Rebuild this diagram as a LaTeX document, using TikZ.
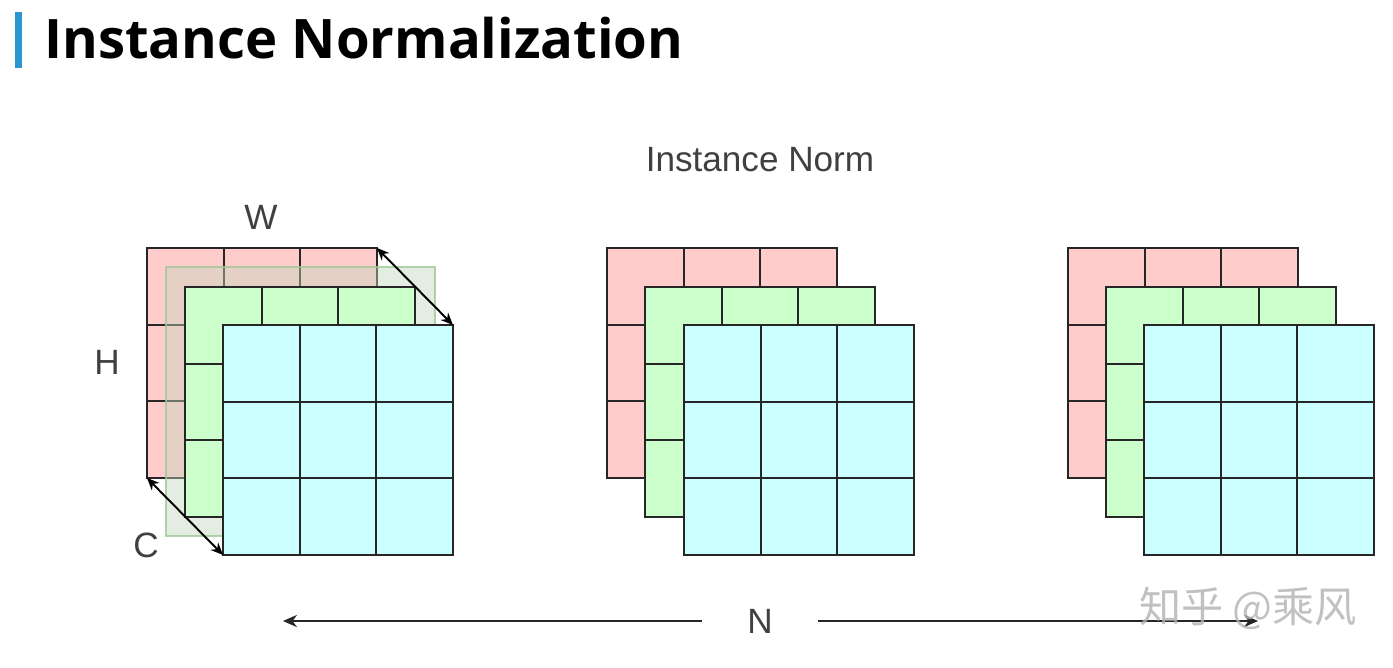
\documentclass[tikz,border=0pt]{standalone}
\usepackage{fontspec}
\setmainfont{Liberation Sans}
\newfontfamily\titlefont{Open Sans}
\newfontfamily\cjkfont{Noto Sans CJK SC}
\usepackage{xcolor}
\usetikzlibrary{arrows.meta,positioning,calc}
\definecolor{chred}{RGB}{255,204,204}
\definecolor{chgreen}{RGB}{204,255,204}
\definecolor{chcyan}{RGB}{204,255,255}
\definecolor{barblue}{RGB}{41,150,207}
\definecolor{slicefill}{RGB}{196,214,190}
\definecolor{sliceline}{RGB}{160,200,150}
\tikzset{
  chmap/.style={draw=black!85, line width=1.1pt, minimum width=4.6cm, minimum height=4.6cm,
    inner sep=0pt, outer sep=0pt, anchor=north west},
  gridline/.style={draw=black!85, line width=1.1pt},
  dimarrow/.style={{Stealth[length=7pt,width=6pt]}-{Stealth[length=7pt,width=6pt]}, line width=1.1pt},
  lbl/.style={font=\fontsize{20}{24}\selectfont, text=black!75}
}
% one channel: 3x3 grid
\newcommand{\chgrid}[4]{%
  \node[chmap, fill=#3] (#4) at (#1,#2) {};
  \foreach \i in {1,2} {
    \draw[gridline] ($(#4.north west)!\i/3!(#4.north east)$) -- ($(#4.south west)!\i/3!(#4.south east)$);
    \draw[gridline] ($(#4.north west)!\i/3!(#4.south west)$) -- ($(#4.north east)!\i/3!(#4.south east)$);
  }
}

\begin{document}
\begin{tikzpicture}[x=0.02cm, y=-0.02cm]
  \useasboundingbox (0,0) rectangle (1393,667);
  % title
  \fill[barblue] (15,12) rectangle (22,68);
  \node[anchor=base west, inner sep=0pt, font=\titlefont\bfseries\fontsize{31}{36}\selectfont] (title) at (44,58) {Instance Normalization};
  \node[lbl] (head) at (760,160) {Instance Norm};

  % sample 1
  \chgrid{147}{248}{chred}{r1}
  \fill[slicefill, fill opacity=0.45, draw=sliceline, draw opacity=0.8, line width=0.8pt] (166,267) rectangle (435,536);
  \chgrid{185}{287}{chgreen}{g1}
  \chgrid{223}{325}{chcyan}{c1}
  % sample 2
  \chgrid{607}{248}{chred}{r2}
  \chgrid{645}{287}{chgreen}{g2}
  \chgrid{684}{325}{chcyan}{c2}
  % sample 3
  \chgrid{1068}{248}{chred}{r3}
  \chgrid{1106}{287}{chgreen}{g3}
  \chgrid{1144}{325}{chcyan}{c3}

  % dimensions
  \draw[dimarrow] (r1.north east) -- (c1.north east);
  \draw[dimarrow] (r1.south west) -- (c1.south west);
  \node[lbl] (w) at (261,217) {W};
  \node[lbl] (h) at (107,362) {H};
  \node[lbl] (c) at (146,545) {C};

  % batch axis
  \node[lbl, outer xsep=0.78cm] (n) at (760,621) {N};
  \coordinate (nleft) at (283,621);
  \coordinate (nright) at (1258,621);
  \draw[-{Stealth[length=8pt,width=7pt]}, line width=1pt, black!85] (n.west) -- (nleft);
  \draw[-{Stealth[length=8pt,width=7pt]}, line width=1pt, black!85] (n.east) -- (nright);

  % watermark
  \node[font=\cjkfont\fontsize{24}{28}\selectfont, text=black!30, text opacity=0.8] (mark) at (1248,608) {知乎 @乘风};
\end{tikzpicture}
\end{document}
